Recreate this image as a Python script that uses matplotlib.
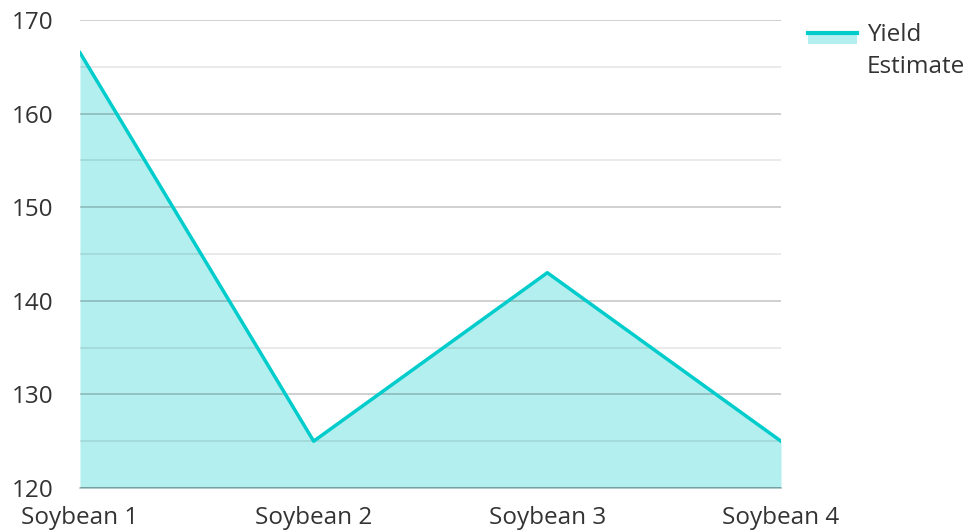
import matplotlib.pyplot as plt
from matplotlib.legend_handler import HandlerBase
from matplotlib.patches import Rectangle
from matplotlib.lines import Line2D

plt.rcParams['font.family'] = ['Open Sans', 'DejaVu Sans']

# data
categories = ['Soybean 1', 'Soybean 2', 'Soybean 3', 'Soybean 4']
yield_est = [166.5, 125, 143, 125]
yticks = [120, 130, 140, 150, 160, 170]

line_col = '#00CCCC'
fill_col = '#B2EFEE'


class AreaHandler(HandlerBase):
    # fill block with the line on its top edge
    def create_artists(self, legend, orig, xd, yd, w, h, fs, trans):
        top = yd + h * 1.45
        r = Rectangle((xd, top - h * 0.62), w, h * 0.62, facecolor=fill_col, edgecolor='none', transform=trans)
        l = Line2D([xd, xd + w], [top, top], color=line_col, lw=3, transform=trans)
        return [r, l]


fig = plt.figure(figsize=(9.68, 5.31), dpi=100)
ax = fig.add_axes([80/968, 1-488/531, (781-80)/968, (488-20)/531])

x = range(len(categories))
ax.fill_between(x, yield_est, 120, color=fill_col, lw=0, zorder=1)
ln, = ax.plot(x, yield_est, color=line_col, lw=2.5, zorder=4)

ax.set_xlim(0, len(categories) - 1)
ax.set_ylim(120, 170)
ax.set_yticks(yticks)
ax.set_yticks([125, 135, 145, 155, 165], minor=True)
ax.set_xticks(list(x))
ax.set_xticklabels(categories)

ax.grid(axis='y', which='major', color='#000000', alpha=0.2, lw=1.3, zorder=2)
ax.grid(axis='y', which='minor', color='#000000', alpha=0.09, lw=1.3, zorder=2)
ax.set_axisbelow(False)

for s in ['top', 'right', 'left']:
    ax.spines[s].set_visible(False)
ax.spines['bottom'].set_color('#000000')
ax.spines['bottom'].set_alpha(0.2)
ax.spines['bottom'].set_linewidth(1.3)

ax.tick_params(axis='both', which='both', length=0, labelsize=17.5, colors='#333333')
ax.tick_params(axis='y', pad=19)
ax.tick_params(axis='x', pad=13)

leg = fig.legend([ln], ['Yield\nEstimate'], handler_map={ln: AreaHandler()},
                 loc='upper left', bbox_to_anchor=(801/968, 1-16/531), frameon=False,
                 fontsize=17.5, labelcolor='#333333', handlelength=2.0, handleheight=0.8,
                 handletextpad=0.41, borderaxespad=0, borderpad=0.3)
leg.get_texts()[0].set_linespacing(1.45)

fig.savefig('out.png', dpi=100)
